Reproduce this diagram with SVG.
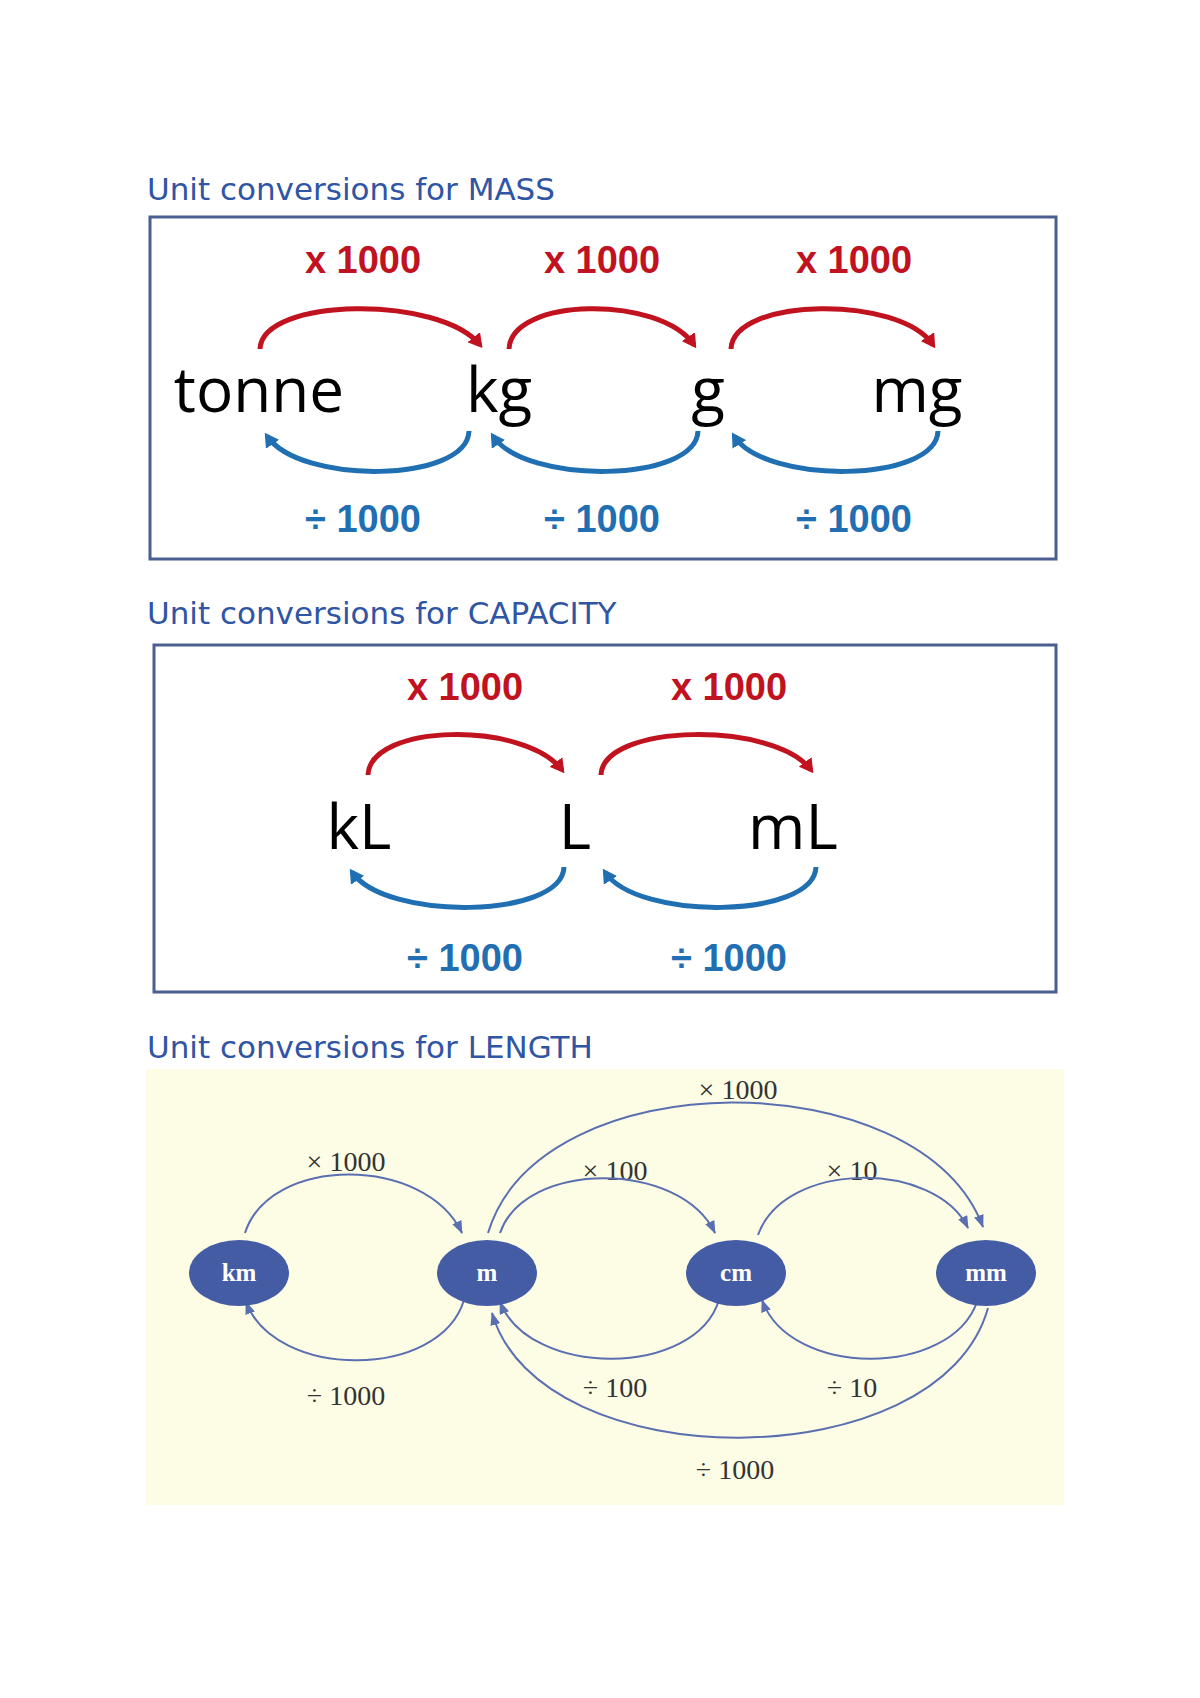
<svg xmlns="http://www.w3.org/2000/svg" width="1200" height="1698" viewBox="0 0 1200 1698">
<style>
.title{font-family:"DejaVu Sans",sans-serif;font-size:31px;fill:#2f55a4}
.box{fill:#fff;stroke:#4a5f8f;stroke-width:3}
.mul{font-family:"Liberation Sans",sans-serif;font-weight:bold;font-size:38px;fill:#c0121f;text-anchor:middle}
.div{font-family:"Liberation Sans",sans-serif;font-weight:bold;font-size:38px;fill:#1f6fb2;text-anchor:middle}
.unit{font-family:"Open Sans","Liberation Sans",sans-serif;font-size:62px;fill:#000;text-anchor:middle}
.red{fill:none;stroke:#c0121f;stroke-width:5;marker-end:url(#ar)}
.blue{fill:none;stroke:#1f6fb2;stroke-width:5;marker-end:url(#ab)}
.ln{fill:none;stroke:#5a6fb0;stroke-width:2;marker-end:url(#al)}
.node{fill:#445ca3}
.nl{font-family:"Liberation Serif",serif;font-weight:bold;font-size:25px;fill:#fff;text-anchor:middle}
.ll{font-family:"Liberation Serif",serif;font-size:28px;fill:#333;text-anchor:middle}
</style>
<defs>
<marker id="ar" markerWidth="18" markerHeight="16" refX="10" refY="8" orient="auto" markerUnits="userSpaceOnUse"><path d="M0,0 L14,8 L0,16 Z" fill="#c0121f"/></marker>
<marker id="ab" markerWidth="18" markerHeight="16" refX="10" refY="8" orient="auto" markerUnits="userSpaceOnUse"><path d="M0,0 L14,8 L0,16 Z" fill="#1f6fb2"/></marker>
<marker id="al" markerWidth="14" markerHeight="10" refX="12" refY="5" orient="auto" markerUnits="userSpaceOnUse"><path d="M0,0 L13,5 L0,10 Z" fill="#5a6fb0"/></marker>
</defs>
<rect width="1200" height="1698" fill="#fff"/>

<g id="mass">
<text class="title" x="147" y="200">Unit conversions for MASS</text>
<rect class="box" x="150" y="217" width="906" height="342"/>
<text class="mul" x="363" y="273">x 1000</text>
<text class="mul" x="602" y="273">x 1000</text>
<text class="mul" x="854" y="273">x 1000</text>
<text class="div" x="363" y="532">÷ 1000</text>
<text class="div" x="602" y="532">÷ 1000</text>
<text class="div" x="854" y="532">÷ 1000</text>
<g id="tonne"><text class="unit" x="259" y="412">tonne</text></g>
<g id="kg"><text class="unit" x="499" y="412">kg</text></g>
<g id="g"><text class="unit" x="708" y="412">g</text></g>
<g id="mg"><text class="unit" x="917" y="412">mg</text></g>
</g>
<g id="mass-connectors">
<path class="red" d="M260,349 C262,297 440,295 480,345"/>
<path class="red" d="M509,349 C511,297 660,295 694,345"/>
<path class="red" d="M731,349 C733,297 900,295 933,345"/>
<path class="blue" d="M469,431 C467,483 300,485 267,436"/>
<path class="blue" d="M698,431 C696,483 525,485 493,436"/>
<path class="blue" d="M938,431 C936,483 765,485 734,436"/>
</g>

<g id="capacity">
<text class="title" x="147" y="624">Unit conversions for CAPACITY</text>
<rect class="box" x="154" y="645" width="902" height="347"/>
<text class="mul" x="465" y="700">x 1000</text>
<text class="mul" x="729" y="700">x 1000</text>
<text class="div" x="465" y="971">÷ 1000</text>
<text class="div" x="729" y="971">÷ 1000</text>
<g id="kL"><text class="unit" x="359" y="849">kL</text></g>
<g id="L"><text class="unit" x="575" y="849">L</text></g>
<g id="mL"><text class="unit" x="793" y="849">mL</text></g>
</g>
<g id="capacity-connectors">
<path class="red" d="M368,775 C370,723 525,721 562,770"/>
<path class="red" d="M601,775 C603,723 775,721 811,770"/>
<path class="blue" d="M564,867 C562,919 385,921 352,872"/>
<path class="blue" d="M816,867 C814,919 637,921 605,872"/>
</g>

<g id="length">
<text class="title" x="147" y="1058">Unit conversions for LENGTH</text>
<rect x="146" y="1069" width="918" height="436" fill="#fdfde6"/>
<text class="ll" x="738" y="1099">× 1000</text>
<text class="ll" x="346" y="1171">× 1000</text>
<text class="ll" x="615" y="1180">× 100</text>
<text class="ll" x="852" y="1180">× 10</text>
<text class="ll" x="346" y="1405">÷ 1000</text>
<text class="ll" x="615" y="1397">÷ 100</text>
<text class="ll" x="852" y="1397">÷ 10</text>
<text class="ll" x="735" y="1479">÷ 1000</text>
</g>
<g id="length-connectors">
<path class="ln" d="M245,1233 C270,1155 425,1155 462,1233"/>
<path class="ln" d="M500,1233 C525,1160 680,1160 715,1233"/>
<path class="ln" d="M758,1235 C785,1160 935,1160 968,1228"/>
<path class="ln" d="M488,1233 C540,1060 920,1060 983,1227"/>
<path class="ln" d="M464,1300 C440,1380 275,1380 246,1302"/>
<path class="ln" d="M719,1300 C695,1378 530,1378 500,1302"/>
<path class="ln" d="M977,1302 C950,1378 790,1378 762,1300"/>
<path class="ln" d="M988,1308 C940,1480 540,1480 492,1313"/>
</g>
<g id="km"><ellipse class="node" cx="239" cy="1273" rx="50" ry="33"/><text class="nl" x="239" y="1281">km</text></g>
<g id="m"><ellipse class="node" cx="487" cy="1273" rx="50" ry="33"/><text class="nl" x="487" y="1281">m</text></g>
<g id="cm"><ellipse class="node" cx="736" cy="1273" rx="50" ry="33"/><text class="nl" x="736" y="1281">cm</text></g>
<g id="mm"><ellipse class="node" cx="986" cy="1273" rx="50" ry="33"/><text class="nl" x="986" y="1281">mm</text></g>
</svg>
